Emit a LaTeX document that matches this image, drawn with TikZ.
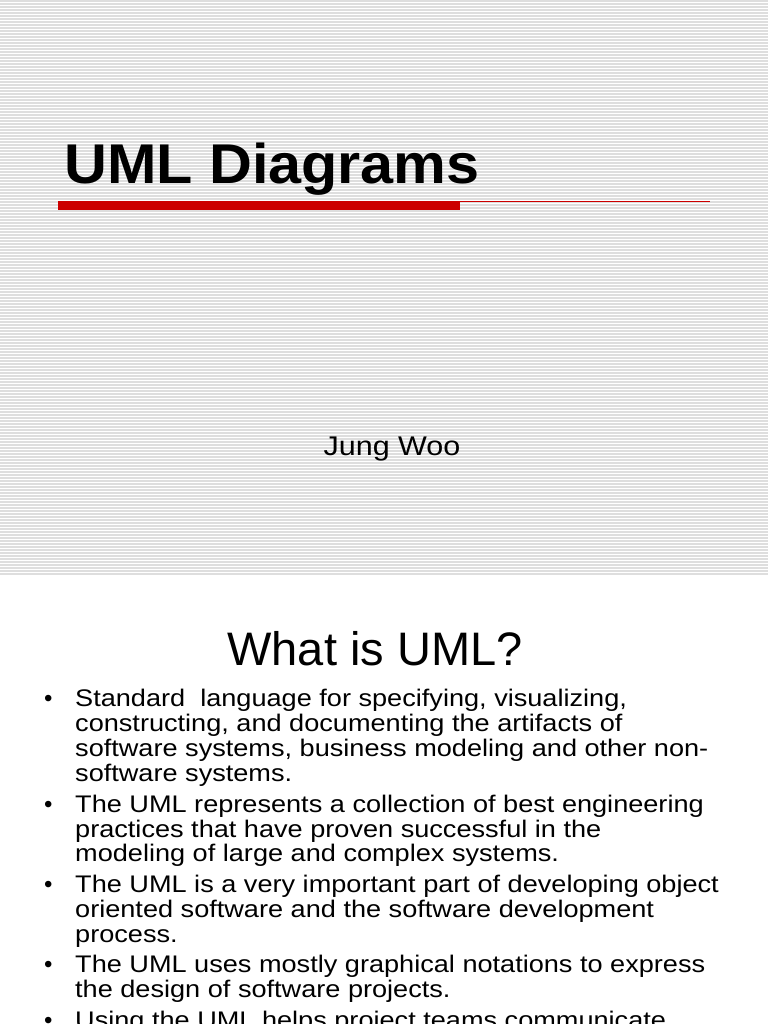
\documentclass[tikz,border=0pt]{standalone}
\usepackage{fontspec}
\setmainfont{Liberation Sans}
\newfontfamily\bodyfont[FakeStretch=1.13]{Liberation Sans}
\newfontfamily\titlefont[FakeStretch=1.06]{Liberation Sans}
\definecolor{stripe}{RGB}{222,222,222}
\definecolor{barred}{RGB}{204,0,0}
\tikzset{line/.style={anchor=base west,inner sep=0pt,font=\bodyfont\fontsize{24}{24}\selectfont},
 bul/.style={anchor=base west,inner sep=0pt,font=\fontsize{24}{24}\selectfont}}
\begin{document}
\begin{tikzpicture}[x=1pt,y=-1pt]
\useasboundingbox (0,0) rectangle (768,1024);
\clip (0,0) rectangle (768,1024);
\fill[white] (0,0) rectangle (768,1024);
\foreach \y in {1,4,...,574} \draw[stripe,line width=1.2pt] (0,\y) -- (768,\y);
\node[anchor=base west,inner sep=0pt,font=\titlefont\fontsize{56}{56}\bfseries\selectfont] (title) at (64,184) {UML Diagrams};
\fill[barred] (58,201) rectangle (460,210);
\draw[barred,line width=1pt] (460,201.5) -- (710,201.5);
\node[anchor=base,inner sep=0pt,font=\bodyfont\fontsize{27}{27}\selectfont] (author) at (392,455) {Jung Woo};
\node[anchor=base,inner sep=0pt,font=\fontsize{47}{47}\selectfont] (h) at (375,665) {What is UML?};
\foreach \y/\t in {
 706/{Standard\ \ language for specifying, visualizing,},
 731/{constructing, and documenting the artifacts of},
 756/{software systems, business modeling and other non-},
 781/{software systems.},
 812/{The UML represents a collection of best engineering},
 837/{practices that have proven successful in the},
 861/{modeling of large and complex systems.},
 892/{The UML is a very important part of developing object},
 917/{oriented software and the software development},
 942/{process.},
 972/{The UML uses mostly graphical notations to express},
 997/{the design of software projects.},
 1028/{Using the UML helps project teams communicate}}
 \node[line] at (75,\y) {\t};
\foreach \y in {706,812,892,972,1028} \node[bul] at (44,\y) {•};
\end{tikzpicture}
\end{document}
